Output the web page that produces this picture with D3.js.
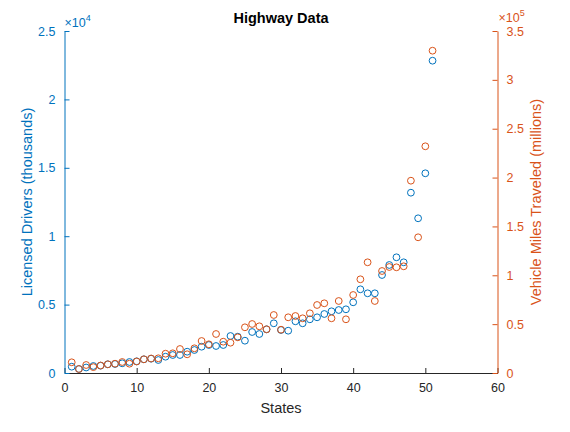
<!DOCTYPE html>
<html>
<head>
<meta charset="utf-8">
<script src="https://cdn.jsdelivr.net/npm/d3@7"></script>
<style>
  body { margin: 0; background: #fff; }
  svg { font-family: "Liberation Sans", Arial, sans-serif; }
</style>
</head>
<body>
<svg id="chart" width="570" height="432"></svg>
<script>
// licensed drivers (thousands), one per state, left axis
const drivers = [461, 292, 402, 512, 534, 636, 658, 709, 804, 855,
  1001, 1045, 950, 1192, 1316, 1316, 1557, 1681, 1922, 2047,
  1974, 2047, 2705, 2653, 2361, 2997, 2851, 3194, 3633, 3143,
  3092, 3779, 3633, 3925, 4072, 4313, 4510, 4605, 4656, 5168,
  6118, 5826, 5826, 7164, 7895, 8458, 8092, 13180, 11309, 14598, 22829];

// vehicle miles traveled (millions), right axis
const miles = [10950, 4094, 8187, 6000, 7675, 8904, 9518, 11257, 9518, 11769,
  14020, 14840, 15044, 19752, 20161, 24562, 19138, 25278, 32749, 29372,
  39913, 32033, 31009, 36536, 46769, 50147, 47793, 44723, 59357, 44313,
  57003, 58334, 55980, 61097, 69591, 71331, 55980, 73685, 54956, 79825,
  95893, 113290, 73685, 104387, 108480, 108173, 109196, 196800, 138875, 232000, 329840];

const xTicks = [0, 10, 20, 30, 40, 50, 60];
const leftTicks = [0, 5000, 10000, 15000, 20000, 25000];
const rightTicks = [0, 50000, 100000, 150000, 200000, 250000, 300000, 350000];

const blue = "#0072BD", orange = "#D95319", dark = "#262626";

const m = {left: 64.5, right: 497.5, top: 31, bottom: 373};
const svg = d3.select("#chart");

const x = d3.scaleLinear().domain([0, 60]).range([m.left, m.right]);
const yL = d3.scaleLinear().domain([0, 25000]).range([m.bottom, m.top]);
const yR = d3.scaleLinear().domain([0, 350000]).range([m.bottom, m.top]);

// bottom axis
const gx = svg.append("g")
    .attr("transform", `translate(0,${m.bottom})`)
    .call(d3.axisBottom(x).tickValues(xTicks).tickSizeInner(-5).tickSizeOuter(0).tickPadding(10)
        .tickFormat(d => String(d)));

// left axis
const gl = svg.append("g")
    .attr("transform", `translate(${m.left},0)`)
    .call(d3.axisLeft(yL).tickValues(leftTicks).tickSizeInner(-5).tickSizeOuter(0).tickPadding(9)
        .tickFormat(d => String(d / 10000)));

// right axis
const gr = svg.append("g")
    .attr("transform", `translate(${m.right},0)`)
    .call(d3.axisRight(yR).tickValues(rightTicks).tickSizeInner(-5).tickSizeOuter(0).tickPadding(9)
        .tickFormat(d => String(d / 100000)));

[[gx, dark], [gl, blue], [gr, orange]].forEach(([g, c]) => {
    g.select(".domain").attr("stroke", c).attr("stroke-width", 1);
    g.selectAll(".tick line").attr("stroke", c).attr("stroke-width", 1);
    g.selectAll(".tick text").attr("fill", c).style("font-size", "12.5px");
});

// scatter points
svg.append("g").selectAll("circle")
    .data(drivers)
    .join("circle")
    .attr("cx", (d, i) => x(i + 1))
    .attr("cy", d => yL(d))
    .attr("r", 3.4)
    .attr("fill", "none")
    .attr("stroke", blue)
    .attr("stroke-width", 1);

svg.append("g").selectAll("circle")
    .data(miles)
    .join("circle")
    .attr("cx", (d, i) => x(i + 1))
    .attr("cy", d => yR(d))
    .attr("r", 3.4)
    .attr("fill", "none")
    .attr("stroke", orange)
    .attr("stroke-width", 1);

// exponent labels
const expL = svg.append("text")
    .attr("x", m.left)
    .attr("y", 27)
    .attr("fill", blue)
    .style("font-size", "12.5px");
expL.append("tspan").text("\u00d710");
expL.append("tspan").attr("dy", -6).style("font-size", "9px").text("4");

const expR = svg.append("text")
    .attr("x", m.right + 1)
    .attr("y", 22)
    .attr("fill", orange)
    .style("font-size", "12.5px");
expR.append("tspan").text("\u00d710");
expR.append("tspan").attr("dy", -6).style("font-size", "9px").text("5");

// title and labels
svg.append("text")
    .attr("x", (m.left + m.right) / 2)
    .attr("y", 23)
    .attr("text-anchor", "middle")
    .attr("fill", "#000")
    .style("font-size", "14.5px")
    .style("font-weight", "bold")
    .text("Highway Data");

svg.append("text")
    .attr("x", (m.left + m.right) / 2)
    .attr("y", 413)
    .attr("text-anchor", "middle")
    .attr("fill", dark)
    .style("font-size", "14.5px")
    .text("States");

svg.append("text")
    .attr("transform", `translate(32,${(m.top + m.bottom) / 2}) rotate(-90)`)
    .attr("text-anchor", "middle")
    .attr("fill", blue)
    .style("font-size", "14.5px")
    .text("Licensed Drivers (thousands)");

svg.append("text")
    .attr("transform", `translate(541,${(m.top + m.bottom) / 2}) rotate(-90)`)
    .attr("text-anchor", "middle")
    .attr("fill", orange)
    .style("font-size", "14.5px")
    .text("Vehicle Miles Traveled (millions)");
</script>
</body>
</html>
